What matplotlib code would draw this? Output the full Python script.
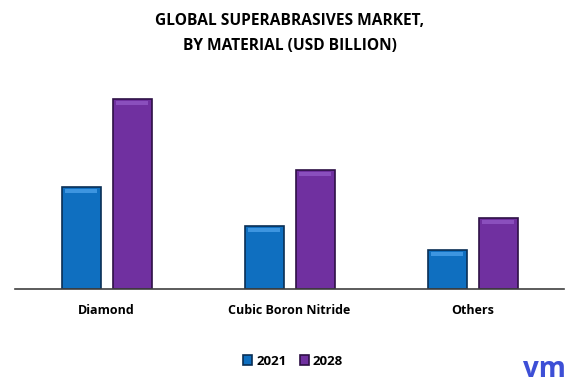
import matplotlib.pyplot as plt
import numpy as np

plt.rcParams['font.family'] = ['Open Sans', 'DejaVu Sans']

# データ
categories = ['Diamond', 'Cubic Boron Nitride', 'Others']
series_names = ['2021', '2028']
values_2021 = [5.1, 3.15, 1.95]
values_2028 = [9.5, 5.95, 3.55]

colors = ['#0f6fc0', '#7030a0']
edges = ['#0a2f55', '#2e1045']
highlights = ['#3d95e0', '#8a4fbd']

fig = plt.figure(figsize=(5.79, 3.83), dpi=100)
fig.patch.set_facecolor('white')
ax = fig.add_axes([15 / 579, 94 / 383, 549 / 579, 200 / 383])

x = np.arange(len(categories))
width = 0.213
offsets = [-0.138, 0.140]

for vals, off, c, ec, hc, name in zip([values_2021, values_2028], offsets,
                                      colors, edges, highlights, series_names):
    ax.bar(x + off, vals, width=width, color=c, edgecolor=ec,
           linewidth=1.2, label=name, zorder=2)
    # 上部のハイライト（ベベル風）
    vals = np.array(vals)
    ax.bar(x + off, [0.2] * len(vals), bottom=vals - 0.3, width=width * 0.82,
           color=hc, linewidth=0, zorder=3)

ax.set_xlim(-0.5, 2.5)
ax.set_ylim(0, 10)
for s in ['top', 'right', 'left']:
    ax.spines[s].set_visible(False)
ax.spines['bottom'].set_color('#404040')
ax.spines['bottom'].set_linewidth(1.2)
ax.set_yticks([])
ax.set_xticks(x)
ax.set_xticklabels(categories, fontsize=9, fontweight='bold')
ax.tick_params(axis='x', length=0, pad=11)

fig.text(0.5, 0.965, 'GLOBAL SUPERABRASIVES MARKET,\nBY MATERIAL (USD BILLION)',
         ha='center', va='top', fontsize=11.2, fontweight='bold',
         linespacing=1.7)

leg = fig.legend(loc='center', bbox_to_anchor=(0.506, 0.057), ncol=2,
                 frameon=False, handlelength=0.7,
                 handleheight=0.7, handletextpad=0.3, columnspacing=1.0,
                 prop={'weight': 'bold', 'size': 9.5})

fig.text(0.94, 0.035, 'vm', ha='center', va='center', fontsize=20,
         color='#3d4fd6', fontweight='bold')

fig.savefig('out.png', dpi=100, facecolor='white')
